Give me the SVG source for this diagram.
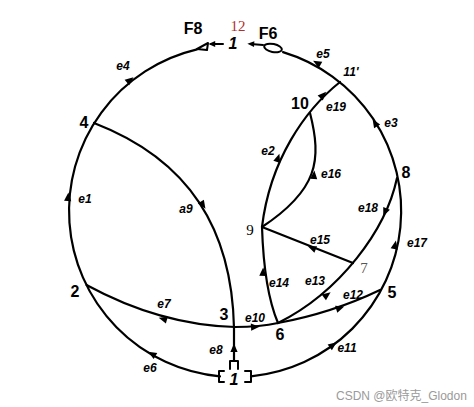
<svg xmlns="http://www.w3.org/2000/svg" xmlns:xlink="http://www.w3.org/1999/xlink" width="474" height="407" viewBox="0 0 474 407">
<style>
.ln{fill:none;stroke:#000;stroke-width:2.2;stroke-linecap:round}
.thin{fill:none;stroke:#000;stroke-width:2;stroke-linecap:round;stroke-linejoin:round}
.el{font-family:"Liberation Sans",Arial,sans-serif;font-weight:bold;font-style:italic;font-size:12px;fill:#000;text-anchor:middle;dominant-baseline:central}
.nd{font-family:"Liberation Sans",Arial,sans-serif;font-weight:bold;font-size:16px;fill:#000;text-anchor:middle;dominant-baseline:central}
.sf{font-family:"Liberation Serif","Times New Roman",serif;font-size:15px;text-anchor:middle;dominant-baseline:central}
.wm{font-family:"Liberation Sans","Noto Sans CJK SC",sans-serif;font-size:12px;fill:#9a9a9a}
</style>
<defs>
<path id="ah" d="M4.5,0 L-4,-3.6 L-4,3.6 Z" fill="#000"/>
</defs>
<rect width="474" height="407" fill="#fff"/>
<g id="connectors">
<path id="arc-left" class="ln" d="M197,49.4 A166,166 0 0 0 220,376.3"/>
<path id="arc-right" class="ln" d="M283,52.1 A166,166 0 0 1 251,376.3"/>
<path id="e19-e2" class="ln" d="M340,82 C305,110 270,160 262,227"/>
<path id="e14" class="ln" d="M262,227 Q264,290 278,323"/>
<path id="e16" class="ln" d="M310,113 C322,160 318,190 262,227"/>
<path id="e15" class="ln" d="M262,227 L353,263"/>
<path id="e18-e13" class="ln" d="M397,178 C386,230 340,292 278,323"/>
<path id="e12" class="ln" d="M380,290 Q332,313 278,323"/>
<path id="e7-e10" class="ln" d="M86.5,285 Q160,325 235,327 Q260,327 278,323"/>
<path id="a9-e8" class="ln" d="M94,123 C190,160 232,230 234,328 L234,361"/>
<use href="#ah" transform="translate(130,80) rotate(-39)"/>
<use href="#ah" transform="translate(68,197) rotate(-85)"/>
<use href="#ah" transform="translate(152,354) rotate(210)"/>
<use href="#ah" transform="translate(317,63) rotate(-151)"/>
<use href="#ah" transform="translate(375,123) rotate(-122)"/>
<use href="#ah" transform="translate(395,245) rotate(-78)"/>
<use href="#ah" transform="translate(333,345) rotate(-36)"/>
<use href="#ah" transform="translate(323,95) rotate(-46)"/>
<use href="#ah" transform="translate(278,158) rotate(-72)"/>
<use href="#ah" transform="translate(314,175) rotate(-85)"/>
<use href="#ah" transform="translate(312,248) rotate(201.6)"/>
<use href="#ah" transform="translate(263,272) rotate(-88)"/>
<use href="#ah" transform="translate(385,212) rotate(113)"/>
<use href="#ah" transform="translate(327,295) rotate(-37)"/>
<use href="#ah" transform="translate(340,308) rotate(-18)"/>
<use href="#ah" transform="translate(255,327) rotate(-3)"/>
<use href="#ah" transform="translate(163,319) rotate(196)"/>
<use href="#ah" transform="translate(234,348) rotate(-90)"/>
<use href="#ah" transform="translate(203,205) rotate(57)"/>
</g>
<g id="terminal-top-left">
<path class="thin" d="M197,49 L208,43 L207,50 Z"/>
<path class="thin" d="M211,44 L223,44"/>
<use href="#ah" transform="translate(212,44) rotate(180) scale(0.8)"/>
<text class="nd" x="193" y="28">F8</text>
</g>
<g id="node-1-top">
<text class="nd" x="233" y="43" font-style="italic">1</text>
<text class="sf" x="238" y="26" fill="#b03030">12</text>
</g>
<g id="terminal-top-right">
<path class="thin" d="M251,44 L263,45"/>
<use href="#ah" transform="translate(251,44) rotate(183) scale(0.8)"/>
<ellipse cx="273" cy="48" rx="9" ry="4" class="thin" transform="rotate(12 273 48)"/>
<text class="nd" x="268" y="33">F6</text>
</g>
<g id="terminal-bottom">
<path class="thin" d="M224,371 H219 V382 H224"/>
<path class="thin" d="M245,371 H251 V382 H245"/>
<path class="thin" d="M230,369 V361 H238 V369"/>
<text class="nd" x="234" y="379" font-style="italic" font-size="13">1</text>
</g>
<g id="node-11"><text class="el" x="351" y="72">11'</text></g>
<g id="node-10"><text class="nd" x="300" y="103" font-size="14">10</text></g>
<g id="node-4"><text class="nd" x="84" y="122" font-size="14">4</text></g>
<g id="node-8"><text class="nd" x="406" y="172">8</text></g>
<g id="node-9"><text class="sf" x="250" y="230" fill="#000" font-size="16">9</text></g>
<g id="node-7"><text class="sf" x="364" y="268" fill="#555" font-size="16">7</text></g>
<g id="node-2"><text class="nd" x="75" y="291" font-size="17">2</text></g>
<g id="node-5"><text class="nd" x="392" y="292">5</text></g>
<g id="node-3"><text class="nd" x="224" y="314">3</text></g>
<g id="node-6"><text class="nd" x="280" y="334">6</text></g>
<g id="edge-labels">
<text class="el" x="323" y="54">e5</text>
<text class="el" x="123" y="66">e4</text>
<text class="el" x="336" y="107">e19</text>
<text class="el" x="391" y="123">e3</text>
<text class="el" x="268" y="151">e2</text>
<text class="el" x="331" y="174">e16</text>
<text class="el" x="85" y="199">e1</text>
<text class="el" x="186" y="209">a9</text>
<text class="el" x="368" y="208">e18</text>
<text class="el" x="320" y="240">e15</text>
<text class="el" x="417" y="243">e17</text>
<text class="el" x="279" y="283">e14</text>
<text class="el" x="315" y="281">e13</text>
<text class="el" x="164" y="304">e7</text>
<text class="el" x="353" y="295">e12</text>
<text class="el" x="255" y="318">e10</text>
<text class="el" x="216" y="350">e8</text>
<text class="el" x="347" y="348">e11</text>
<text class="el" x="150" y="368">e6</text>
</g>
<text class="wm" x="336" y="400">CSDN @欧特克_Glodon</text>
</svg>
